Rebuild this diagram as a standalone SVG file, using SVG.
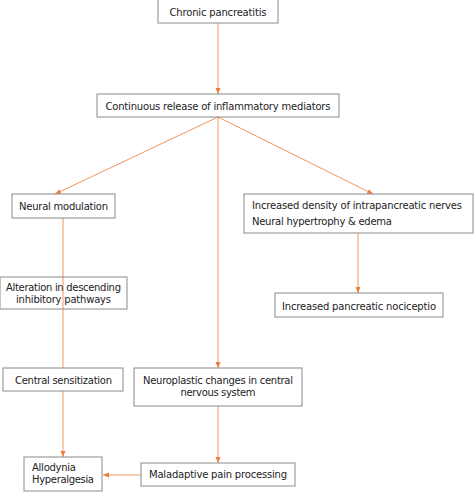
<svg xmlns="http://www.w3.org/2000/svg" width="474" height="494" viewBox="0 0 474 494">
<style>
.box{fill:none;stroke:#8a8a8a;stroke-width:1}
.t{font-family:"DejaVu Sans",Verdana,sans-serif;font-size:10px;fill:#222}
.c{text-anchor:middle}
.ln{stroke:#f2945c;stroke-width:1;fill:none}
.ar{stroke:#f2945c;stroke-width:1;fill:none;marker-end:url(#ah)}
</style>
<defs>
<marker id="ah" viewBox="0 0 6 6" refX="6" refY="3" markerWidth="6" markerHeight="6" markerUnits="userSpaceOnUse" orient="auto">
<path d="M0,0.5 L6,3 L0,5.5 Z" fill="#f07c3c"/>
</marker>
</defs>
<rect width="474" height="494" fill="#fff"/>
<g id="connectors">
<line class="ar" x1="218" y1="23" x2="218" y2="94"/>
<line class="ar" x1="218" y1="117" x2="55" y2="194"/>
<line class="ar" x1="218" y1="117" x2="373" y2="194"/>
<line class="ar" x1="218" y1="117" x2="218" y2="368"/>
<line class="ln" x1="63" y1="218" x2="63" y2="368"/>
<line class="ar" x1="63" y1="391" x2="63" y2="457"/>
<line class="ar" x1="358" y1="233" x2="358" y2="293"/>
<line class="ar" x1="218" y1="406" x2="218" y2="463"/>
<line class="ar" x1="141" y1="475" x2="103" y2="475"/>
</g>
<g id="n1"><rect class="box" x="158" y="-1" width="120" height="24"/><text class="t c" x="218" y="16" textLength="97">Chronic pancreatitis</text></g>
<g id="n2"><rect class="box" x="97" y="94" width="242" height="23"/><text class="t c" x="218" y="110" textLength="225">Continuous release of inflammatory mediators</text></g>
<g id="n3"><rect class="box" x="12" y="194" width="103" height="24"/><text class="t c" x="63.5" y="210" textLength="89">Neural modulation</text></g>
<g id="n4"><rect class="box" x="244" y="194" width="229" height="39"/><text class="t" x="252" y="209" textLength="210">Increased density of intrapancreatic nerves</text><text class="t" x="252" y="225" textLength="140">Neural hypertrophy &amp; edema</text></g>
<g id="n5"><rect class="box" x="0" y="277" width="127" height="32"/><text class="t c" x="63.5" y="291" textLength="115">Alteration in descending</text><text class="t c" x="63.5" y="303" textLength="95">inhibitory pathways</text></g>
<g id="n6"><rect class="box" x="275" y="293" width="168" height="24"/><text class="t c" x="359" y="310" textLength="154">Increased pancreatic nociceptio</text></g>
<g id="n7"><rect class="box" x="3" y="368" width="120" height="23"/><text class="t c" x="63.5" y="384" textLength="97">Central sensitization</text></g>
<g id="n8"><rect class="box" x="134" y="368" width="168" height="38"/><text class="t c" x="218" y="384" textLength="150">Neuroplastic changes in central</text><text class="t c" x="218" y="396" textLength="75">nervous system</text></g>
<g id="n9"><rect class="box" x="24" y="457" width="78" height="34"/><text class="t" x="32" y="471" textLength="44">Allodynia</text><text class="t" x="32" y="483" textLength="62">Hyperalgesia</text></g>
<g id="n10"><rect class="box" x="141" y="463" width="154" height="23"/><text class="t c" x="218" y="478" textLength="138">Maladaptive pain processing</text></g>
</svg>
